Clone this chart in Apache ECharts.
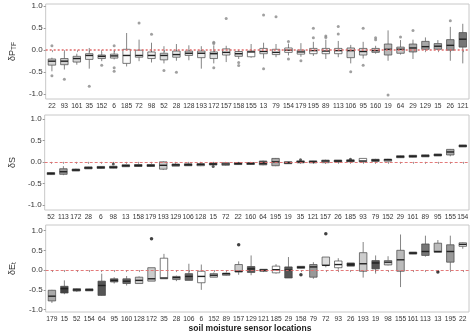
<!DOCTYPE html>
<html><head><meta charset="utf-8">
<script src="https://cdn.jsdelivr.net/npm/echarts@6/dist/echarts.min.js"></script>
<style>html,body{margin:0;padding:0;background:#fff}#c{width:474px;height:335px}</style>
</head><body><div id="c"></div>
<script>
// ---------- Panel 1: δP_TF ----------
const catsP = ['22','93','161','35','152','6','185','72','98','52','28','128','193','172','157','158','155','13','79','154','179','195','89','113','106','95','160','19','64','29','129','15','26','121'];
const lowP  = [-0.48,-0.44,-0.33,-0.42,-0.25,-0.21,-0.37,-0.25,-0.28,-0.30,-0.24,-0.23,-0.42,-0.30,-0.27,-0.20,-0.17,-0.19,-0.16,-0.12,-0.15,-0.13,-0.20,-0.16,-0.30,-0.19,-0.08,-0.24,-0.10,-0.20,0.00,0.00,-0.24,-0.30];
const q1P   = [-0.34,-0.33,-0.27,-0.21,-0.19,-0.18,-0.30,-0.16,-0.19,-0.22,-0.16,-0.12,-0.17,-0.19,-0.11,-0.14,-0.15,-0.08,-0.10,-0.05,-0.09,-0.08,-0.08,-0.08,-0.17,-0.11,-0.05,-0.11,-0.07,-0.04,0.02,0.02,0.00,0.07];
const medP  = [-0.25,-0.25,-0.19,-0.12,-0.14,-0.13,-0.12,-0.12,-0.12,-0.12,-0.10,-0.07,-0.07,-0.08,-0.05,-0.08,-0.04,-0.03,-0.05,0.00,-0.04,-0.01,-0.02,-0.01,-0.01,-0.03,-0.01,0.02,0.02,0.05,0.08,0.09,0.11,0.25];
const q3P   = [-0.20,-0.19,-0.14,-0.08,-0.11,-0.09,0.02,0.00,-0.04,-0.07,-0.02,-0.02,-0.02,-0.04,0.03,-0.03,-0.02,0.04,0.02,0.05,0.00,0.04,0.04,0.04,0.05,0.04,0.04,0.14,0.07,0.14,0.20,0.15,0.24,0.40];
const highP = [-0.17,-0.04,-0.08,0.05,-0.04,0.00,0.39,0.24,0.17,0.09,0.14,0.11,0.09,0.11,0.10,-0.01,0.14,0.17,0.14,0.15,0.16,0.19,0.24,0.21,0.12,0.19,0.10,0.45,0.23,0.24,0.29,0.23,0.53,0.60];
const outP  = [['22',0.10],['22',-0.58],['93',-0.66],['35',-0.82],['152',-0.34],['6',0.10],['6',-0.40],['6',-0.48],['72',0.62],['98',0.36],['52',-0.46],['28',-0.50],['172',0.18],['172',0.15],['172',-0.40],['157',0.72],['158',-0.28],['158',-0.35],['13',0.80],['13',-0.42],['79',0.76],['154',0.20],['154',-0.20],['179',-0.24],['195',0.50],['195',0.28],['89',0.32],['89',0.29],['113',0.54],['113',0.37],['106',-0.49],['95',0.50],['95',-0.34],['160',0.28],['160',0.24],['19',-1.02],['64',0.30],['29',0.45],['26',0.67]];
const fillP = ['#d6d6d6','#cfcfcf','#d6d6d6','#e6e6e6','#d6d6d6','#dedede','#fafafa','#f4f4f4','#efefef','#dedede','#e6e6e6','#dcdcdc','#ededed','#dedede','#efefef','#dedede','#ffffff','#ffffff','#fafafa','#ffffff','#ffffff','#fafafa','#f4f4f4','#fafafa','#d8d8d8','#dcdcdc','#d8d8d8','#b8b8b8','#c8c8c8','#aaaaaa','#a8a8a8','#a8a8a8','#999999','#777777'];

// ---------- Panel 2: δS ----------
const catsS = ['52','113','172','28','6','98','13','158','179','193','129','106','128','15','72','22','160','64','195','19','35','121','157','26','185','93','79','152','29','161','89','95','155','154'];
const lowS  = [-0.28,-0.31,-0.20,-0.15,-0.14,-0.135,-0.10,-0.095,-0.095,-0.19,-0.10,-0.075,-0.10,-0.06,-0.09,-0.045,-0.045,-0.08,-0.10,-0.025,-0.005,-0.003,-0.03,0.015,0.02,0.00,0.00,0.02,0.115,0.125,0.135,0.155,0.13,0.365];
const q1S   = [-0.28,-0.29,-0.195,-0.145,-0.135,-0.13,-0.10,-0.09,-0.09,-0.17,-0.10,-0.07,-0.09,-0.055,-0.08,-0.042,-0.042,-0.07,-0.09,-0.022,-0.003,-0.002,-0.02,0.017,0.022,0.00,0.01,0.02,0.118,0.128,0.138,0.158,0.16,0.368];
const medS  = [-0.27,-0.23,-0.19,-0.14,-0.13,-0.125,-0.09,-0.085,-0.085,-0.08,-0.07,-0.068,-0.06,-0.05,-0.05,-0.04,-0.04,-0.03,0.00,-0.02,0.00,0.00,0.02,0.02,0.025,0.02,0.04,0.05,0.12,0.13,0.14,0.16,0.23,0.37];
const q3S   = [-0.265,-0.16,-0.185,-0.135,-0.125,-0.12,-0.08,-0.08,-0.08,0.00,-0.05,-0.065,-0.04,-0.045,-0.02,-0.038,-0.035,0.02,0.08,-0.018,0.003,0.002,0.04,0.022,0.028,0.08,0.06,0.06,0.122,0.132,0.142,0.162,0.29,0.372];
const highS = [-0.26,-0.10,-0.16,-0.13,-0.12,-0.115,-0.08,-0.075,-0.075,0.01,-0.05,-0.06,-0.04,-0.04,-0.02,-0.035,-0.03,0.03,0.09,-0.015,0.005,0.003,0.05,0.025,0.03,0.08,0.07,0.07,0.125,0.135,0.145,0.165,0.30,0.375];
const outS  = [['98',-0.05],['15',-0.11],['35',0.05],['185',0.06]];
const fillS = ['#555555','#999999','#555555','#555555','#555555','#555555','#666666','#555555','#555555','#cccccc','#666666','#555555','#999999','#555555','#cccccc','#555555','#555555','#555555','#aaaaaa','#555555','#555555','#555555','#aaaaaa','#555555','#555555','#ffffff','#555555','#999999','#555555','#555555','#555555','#555555','#aaaaaa','#555555'];

// ---------- Panel 3: δE_t ----------
const catsE = ['179','15','52','154','64','95','160','128','172','35','28','106','6','152','89','157','129','121','185','29','158','79','72','93','26','193','19','98','155','161','113','13','195','22'];
const lowE  = [-0.83,-0.61,-0.55,-0.51,-0.65,-0.34,-0.39,-0.34,-0.28,-0.22,-0.28,-0.26,-0.50,-0.18,-0.14,-0.12,-0.13,-0.03,-0.09,-0.20,0.05,-0.22,0.07,0.01,0.10,-0.19,-0.09,0.12,-0.43,0.42,0.34,0.45,0.00,0.54];
const q1E   = [-0.78,-0.58,-0.53,-0.505,-0.64,-0.30,-0.34,-0.34,-0.28,-0.22,-0.24,-0.26,-0.32,-0.18,-0.13,-0.05,-0.06,-0.03,-0.07,-0.20,0.05,-0.18,0.12,0.06,0.10,-0.03,0.03,0.13,-0.03,0.425,0.37,0.45,0.20,0.60];
const medE  = [-0.66,-0.47,-0.50,-0.50,-0.39,-0.26,-0.28,-0.26,-0.22,-0.20,-0.19,-0.16,-0.16,-0.13,-0.09,-0.03,0.03,0.00,0.01,0.00,0.07,0.08,0.12,0.14,0.14,0.16,0.18,0.20,0.26,0.43,0.47,0.47,0.47,0.65];
const q3E   = [-0.51,-0.41,-0.47,-0.495,-0.28,-0.22,-0.22,-0.18,0.06,0.30,-0.16,-0.09,-0.03,-0.09,-0.08,0.14,0.09,0.02,0.10,0.08,0.09,0.14,0.33,0.23,0.18,0.44,0.24,0.24,0.50,0.435,0.66,0.68,0.64,0.69];
const highE = [-0.50,-0.26,-0.46,-0.49,-0.09,-0.18,-0.15,-0.16,0.06,0.41,-0.14,0.16,0.14,-0.06,-0.06,0.22,0.37,0.02,0.15,0.33,0.09,0.20,0.33,0.30,0.18,0.71,0.37,0.35,0.90,0.44,0.87,0.76,0.87,0.70];
const outE  = [['172',0.79],['157',0.64],['158',-0.12],['72',0.92],['13',-0.05]];
const fillE = ['#aaaaaa','#444444','#777777','#555555','#555555','#666666','#666666','#cccccc','#cccccc','#ffffff','#aaaaaa','#666666','#ffffff','#cccccc','#999999','#cccccc','#555555','#444444','#ffffff','#555555','#444444','#999999','#dddddd','#ffffff','#333333','#cccccc','#555555','#cccccc','#bbbbbb','#444444','#777777','#bbbbbb','#999999','#eeeeee'];

const yTicks = [-1, -0.5, 0, 0.5, 1];

function rows(low, q1, med, q3, high) {
  return low.map((v, i) => [i, v, q1[i], med[i], q3[i], high[i]]);
}

function boxRenderer(fills) {
  return function (params, api) {
    const i = api.value(0);
    const lo = api.coord([i, api.value(1)]);
    const a = api.coord([i, api.value(2)]);
    const md = api.coord([i, api.value(3)]);
    const b = api.coord([i, api.value(4)]);
    const hi = api.coord([i, api.value(5)]);
    const bw = api.size([1, 0])[0] * 0.6;
    const x = md[0];
    let top = b[1], bot = a[1];
    if (bot - top < 2) { const c = (top + bot) / 2; top = c - 1; bot = c + 1; }
    const stroke = '#444';
    return {
      type: 'group',
      children: [
        { type: 'line', shape: { x1: x, y1: lo[1], x2: x, y2: bot }, style: { stroke: '#666', lineWidth: 0.8 } },
        { type: 'line', shape: { x1: x, y1: hi[1], x2: x, y2: top }, style: { stroke: '#666', lineWidth: 0.8 } },
        { type: 'rect', shape: { x: x - bw / 2, y: top, width: bw, height: bot - top },
          style: { fill: fills[params.dataIndex], stroke: stroke, lineWidth: 0.7 } },
        { type: 'line', shape: { x1: x - bw / 2, y1: md[1], x2: x + bw / 2, y2: md[1] }, style: { stroke: '#222', lineWidth: 1.4 } }
      ]
    };
  };
}

const grids = [
  { left: 31, right: 5, top: 4, height: 95 },
  { left: 31, right: 5, top: 115, height: 95 },
  { left: 31, right: 5, top: 225, height: 87 }
].map(g => Object.assign({ show: true, borderColor: '#c8c8c8', borderWidth: 1, backgroundColor: '#fff' }, g));

const ranges = [[-1.11, 1.05], [-1.12, 1.09], [-1.06, 1.14]];
const names = ['{a|δP}{s|TF}', '{a|δS}', '{a|δE}{s|t}'];
const allCats = [catsP, catsS, catsE];

const FONT = 'Liberation Sans';

const xAxes = allCats.map((c, k) => ({
  type: 'category', gridIndex: k, data: c,
  axisLine: { show: false },
  axisTick: { show: true, alignWithLabel: true, length: 2, lineStyle: { color: '#999' } },
  axisLabel: { interval: 0, fontSize: 6.7, color: '#333', margin: 4, fontFamily: FONT },
  splitLine: { show: false }
}));

const yAxes = ranges.map((r, k) => ({
  type: 'value', gridIndex: k, min: r[0], max: r[1],
  axisLine: { show: false },
  axisTick: { show: true, length: 2, customValues: yTicks, lineStyle: { color: '#999' } },
  axisLabel: { customValues: yTicks, fontSize: 8, color: '#333', margin: 3, fontFamily: FONT,
    formatter: v => v.toFixed(1) },
  splitLine: { show: false },
  name: names[k], nameLocation: 'middle', nameGap: 19, nameRotate: 90,
  nameTextStyle: { rich: { a: { fontSize: 9, color: '#333', fontFamily: FONT }, s: { fontSize: 6.5, color: '#333', fontFamily: FONT, verticalAlign: 'bottom', padding: [4, 0, 0, 0] } } }
}));

const zeroLines = [
  { color: '#e06b6b', width: 1.6, type: [2, 2] },
  { color: '#e06b6b', width: 0.9, type: [3, 2] },
  { color: '#e06b6b', width: 0.9, type: [3, 2] }
];

const data = [
  [rows(lowP, q1P, medP, q3P, highP), fillP, outP, '#888', 3],
  [rows(lowS, q1S, medS, q3S, highS), fillS, outS, '#333', 3],
  [rows(lowE, q1E, medE, q3E, highE), fillE, outE, '#111', 3.5]
];

const series = [];
data.forEach((d, k) => {
  series.push({
    type: 'custom', xAxisIndex: k, yAxisIndex: k, data: d[0],
    encode: { x: 0, y: [1, 2, 3, 4, 5] },
    renderItem: boxRenderer(d[1]), z: 2, silent: true,
    markLine: { silent: true, symbol: 'none', label: { show: false }, z: 5,
      lineStyle: { color: zeroLines[k].color, width: zeroLines[k].width, type: zeroLines[k].type },
      data: [{ yAxis: 0 }] }
  });
  series.push({
    type: 'scatter', xAxisIndex: k, yAxisIndex: k, data: d[2],
    symbol: 'circle', symbolSize: d[4], itemStyle: { color: d[3] }, silent: true, z: 3
  });
});

const chart = echarts.init(document.getElementById('c'), null, { renderer: 'canvas' });
chart.setOption({
  animation: false,
  textStyle: { fontFamily: FONT },
  grid: grids, xAxis: xAxes, yAxis: yAxes, series: series,
  graphic: [{ type: 'text', x: 250, y: 329, style: { text: 'soil moisture sensor locations', fontSize: 8.5, fontWeight: 'bold', fill: '#222', align: 'center', verticalAlign: 'middle', fontFamily: FONT } }]
});
</script></body></html>
